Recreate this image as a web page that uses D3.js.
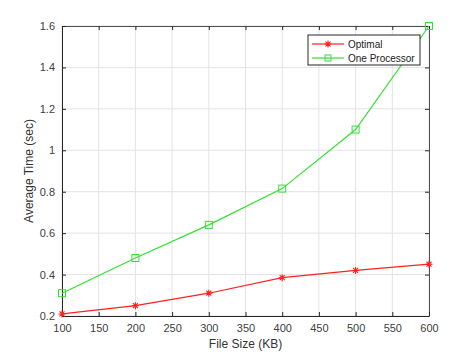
<!DOCTYPE html>
<html><head><meta charset="utf-8">
<script src="https://cdn.jsdelivr.net/npm/d3@7"></script>
<style>body{margin:0;background:#fff}svg{display:block}text{font-family:"Liberation Sans",Arial,sans-serif}</style>
</head><body><svg id="c" width="474" height="355"></svg>
<script>
const fileSizes = [100, 200, 300, 400, 500, 600];
const optimal = [0.21, 0.25, 0.31, 0.385, 0.42, 0.45];
const oneProcessor = [0.31, 0.48, 0.64, 0.815, 1.10, 1.60];
const xTicks = [100, 150, 200, 250, 300, 350, 400, 450, 500, 550, 600];
const yTicks = [0.2, 0.4, 0.6, 0.8, 1, 1.2, 1.4, 1.6];
const seriesNames = ["Optimal", "One Processor"];

const svg = d3.select("#c");
const L = 62, R = 429, T = 26, B = 316;
const x = d3.scaleLinear().domain([100, 600]).range([L, R]);
const y = d3.scaleLinear().domain([0.2, 1.6]).range([B, T]);
const axisCol = "#262626", tickTxt = "#404040";

// grid
const g = svg.append("g");
g.selectAll(".gx").data(xTicks).enter().append("line")
  .attr("x1", d => x(d)).attr("x2", d => x(d)).attr("y1", T).attr("y2", B)
  .attr("stroke", "#e3e3e3").attr("stroke-width", 1);
g.selectAll(".gy").data(yTicks).enter().append("line")
  .attr("y1", d => y(d)).attr("y2", d => y(d)).attr("x1", L).attr("x2", R)
  .attr("stroke", "#e3e3e3").attr("stroke-width", 1);

// axes
const xa = svg.append("g").attr("transform", `translate(0,${B})`)
  .call(d3.axisBottom(x).tickValues(xTicks).tickSizeInner(-4).tickSizeOuter(0).tickPadding(8));
const ya = svg.append("g").attr("transform", `translate(${L},0)`)
  .call(d3.axisLeft(y).tickValues(yTicks).tickSizeInner(-4).tickSizeOuter(0).tickPadding(7).tickFormat(d3.format("")));
const xt = svg.append("g").attr("transform", `translate(0,${T})`)
  .call(d3.axisTop(x).tickValues(xTicks).tickSizeInner(-4).tickSizeOuter(0).tickFormat(""));
const yr = svg.append("g").attr("transform", `translate(${R},0)`)
  .call(d3.axisRight(y).tickValues(yTicks).tickSizeInner(-4).tickSizeOuter(0).tickFormat(""));
[xa, ya, xt, yr].forEach(a => {
  a.selectAll("path").attr("stroke", axisCol).attr("stroke-width", 1);
  a.selectAll("line").attr("stroke", axisCol);
  a.selectAll("text").attr("fill", tickTxt).style("font-size", "11px").style("font-family", "Liberation Sans, Arial, sans-serif");
});
xt.select("path").attr("stroke-width", 0.8);
yr.select("path").attr("stroke-width", 0.8);

// labels
svg.append("text").attr("x", (L + R) / 2).attr("y", 348).attr("text-anchor", "middle")
  .attr("fill", "#333").style("font-size", "12px").text("File Size (KB)");
svg.append("text").attr("transform", `translate(33,${(T + B) / 2}) rotate(-90)`).attr("text-anchor", "middle")
  .attr("fill", "#333").style("font-size", "12px").text("Average Time (sec)");

const line = d3.line().x((d, i) => x(fileSizes[i])).y(d => y(d));
const red = "#ff2020", green = "#33e033";

// one processor
svg.append("path").datum(oneProcessor).attr("d", line).attr("fill", "none").attr("stroke", green).attr("stroke-width", 1.2);
svg.selectAll(".sq").data(oneProcessor).enter().append("rect")
  .attr("x", (d, i) => x(fileSizes[i]) - 3.5).attr("y", d => y(d) - 3.5).attr("width", 7).attr("height", 7)
  .attr("fill", "none").attr("stroke", green).attr("stroke-width", 1);

// optimal
svg.append("path").datum(optimal).attr("d", line).attr("fill", "none").attr("stroke", red).attr("stroke-width", 1.2);
const star = (cx, cy, s) => {
  const p = [];
  for (let k = 0; k < 4; k++) {
    const a = k * Math.PI / 4;
    p.push(`M${cx - s * Math.cos(a)},${cy - s * Math.sin(a)}L${cx + s * Math.cos(a)},${cy + s * Math.sin(a)}`);
  }
  return p.join("");
};
svg.selectAll(".st").data(optimal).enter().append("path")
  .attr("d", (d, i) => star(x(fileSizes[i]), y(d), 3.5)).attr("stroke", red).attr("stroke-width", 1.1).attr("fill", "none");

// legend
const lg = svg.append("g");
lg.append("rect").attr("x", 308).attr("y", 35).attr("width", 112).attr("height", 30)
  .attr("fill", "#fff").attr("stroke", axisCol).attr("stroke-width", 1);
const cols = [red, green];
seriesNames.forEach((n, i) => {
  const yy = 44 + i * 14;
  lg.append("line").attr("x1", 312).attr("x2", 344).attr("y1", yy).attr("y2", yy).attr("stroke", cols[i]).attr("stroke-width", 1.2);
  if (i === 0) lg.append("path").attr("d", star(328, yy, 3.5)).attr("stroke", red).attr("stroke-width", 1.1);
  else lg.append("rect").attr("x", 325).attr("y", yy - 3).attr("width", 6).attr("height", 6).attr("fill", "none").attr("stroke", green);
  lg.append("text").attr("x", 348).attr("y", yy + 3.5).attr("fill", "#222").style("font-size", "10px").text(n);
});
</script></body></html>
